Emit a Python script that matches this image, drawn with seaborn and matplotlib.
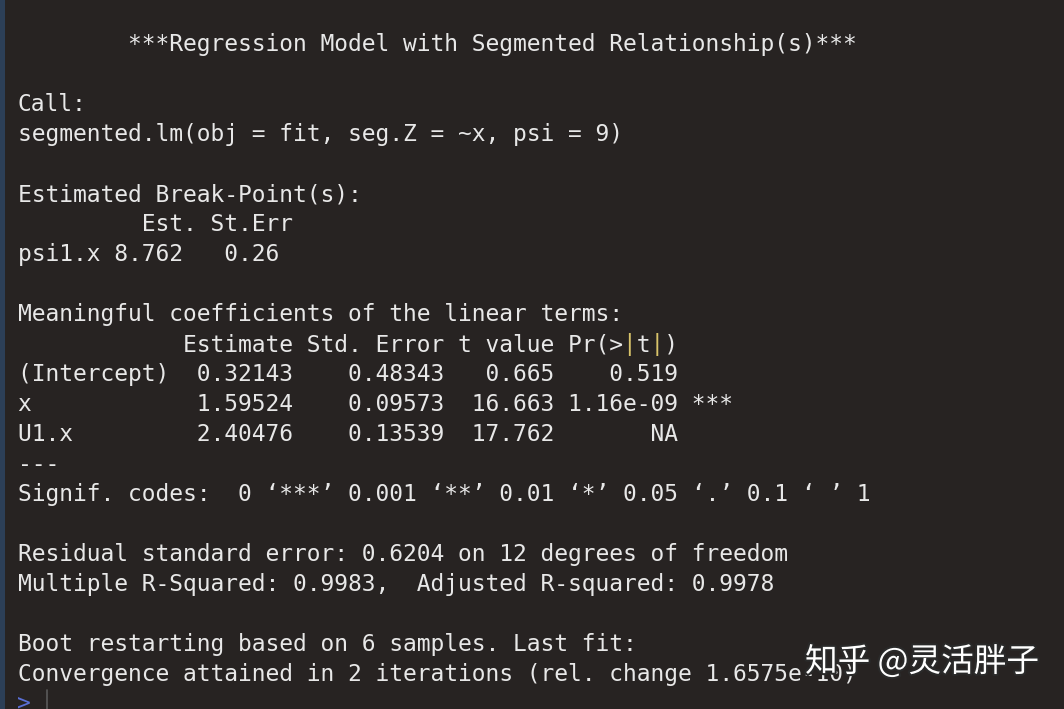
import matplotlib
matplotlib.use("Agg")
import matplotlib.pyplot as plt
import matplotlib.patheffects as pe
import seaborn as sns

# ---- data (text content of the console) ----
title = "        ***Regression Model with Segmented Relationship(s)***"
call_lines = ["Call:", "segmented.lm(obj = fit, seg.Z = ~x, psi = 9)"]
bp_header = "Estimated Break-Point(s):"
bp_cols = ["Est.", "St.Err"]
bp_row = ["psi1.x", "8.762", "0.26"]
coef_header_title = "Meaningful coefficients of the linear terms:"
coef_cols = ["Estimate", "Std. Error", "t value", "Pr(>|t|)"]
coef_names = ["(Intercept)", "x", "U1.x"]
coef_est = ["0.32143", "1.59524", "2.40476"]
coef_se = ["0.48343", "0.09573", "0.13539"]
coef_t = ["0.665", "16.663", "17.762"]
coef_p = ["0.519", "1.16e-09", "NA"]
coef_sig = ["", "***", ""]
signif = "Signif. codes:  0 \u2018***\u2019 0.001 \u2018**\u2019 0.01 \u2018*\u2019 0.05 \u2018.\u2019 0.1 \u2018 \u2019 1"
resid_lines = ["Residual standard error: 0.6204 on 12 degrees of freedom",
               "Multiple R-Squared: 0.9983,  Adjusted R-squared: 0.9978"]
boot_lines = ["Boot restarting based on 6 samples. Last fit:",
              "Convergence attained in 2 iterations (rel. change 1.6575e-10)"]
watermark = "知乎 @灵活胖子"

# ---- build console lines ----
lines = [title, "", call_lines[0], call_lines[1], "", bp_header,
         " " * 9 + f"{bp_cols[0]} {bp_cols[1]}",
         f"{bp_row[0]} {bp_row[1]}   {bp_row[2]}", "",
         coef_header_title,
         " " * 12 + " ".join(coef_cols)]
for n, e, s, t, p, g in zip(coef_names, coef_est, coef_se, coef_t, coef_p, coef_sig):
    row = f"{n:<11} {e:>8} {s:>10} {t:>7} {p:>8} {g}".rstrip()
    lines.append(row)
lines += ["---", signif, "", resid_lines[0], resid_lines[1], "",
          boot_lines[0], boot_lines[1]]

sns.set_theme(style="dark")
BG = "#272322"
FG = "#e8e8e8"

fig = plt.figure(figsize=(10.64, 7.09), dpi=100, facecolor=BG)
ax = fig.add_axes([0, 0, 1, 1])
ax.set_facecolor(BG)
ax.set_xlim(0, 1064)
ax.set_ylim(709, 0)
ax.axis("off")

x0 = 17.5
y0 = 44.5
dy = 30
fs = 16.45
mono = "DejaVu Sans Mono"

for i, ln in enumerate(lines):
    if not ln:
        continue
    main = ln.replace("|", " ") if "|" in ln else ln
    ax.text(x0, y0 + i * dy, main, fontsize=fs, family=mono, color=FG,
            ha="left", va="center")
    if "|" in ln:
        pipes = "".join(c if c == "|" else " " for c in ln)
        ax.text(x0, y0 + i * dy, pipes, fontsize=fs, family=mono,
                color="#d9c46a", ha="left", va="center")

# prompt line
ip = len(lines)
ax.text(x0, y0 + ip * dy, ">", fontsize=fs, family=mono, color="#5a6fd6",
        ha="left", va="center")
ax.plot([46.5, 46.5], [690, 709], color="#5a5a5a", lw=1.2)

# left strip
ax.axvspan(0, 5, color="#2c3f57", lw=0)

# watermark
ax.text(805, 662, watermark, fontsize=23.5, family=["Noto Sans CJK SC", "DejaVu Sans"],
        color="white", ha="left", va="center", fontweight="medium",
        path_effects=[pe.withStroke(linewidth=3, foreground="#2a2a2a")])

fig.savefig("out.png", dpi=100, facecolor=BG)
